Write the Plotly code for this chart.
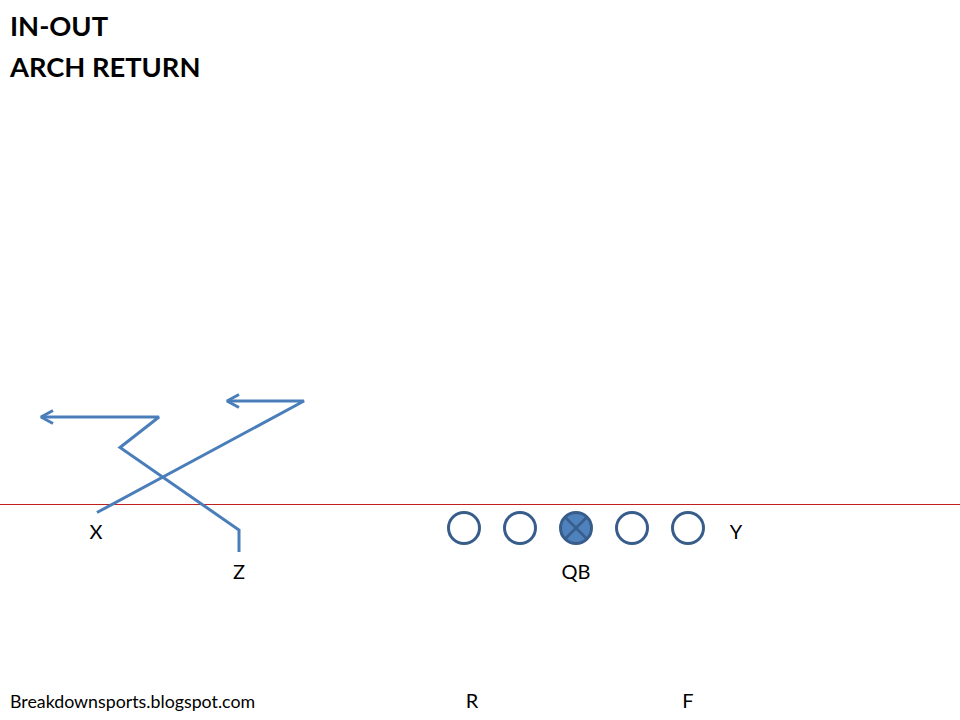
import plotly.graph_objects as go

# everything is in image pixels, y axis flipped
title_lines = ["IN-OUT", "ARCH RETURN"]
title_x = [10, 10]
title_y = [29, 70]

los_x = [0, 960]
los_y = [504.5, 504.5]

route_x_x = [97, 304, 227]
route_x_y = [512.5, 401, 401]
route_z_x = [239, 239, 120, 159, 41]
route_z_y = [552, 530, 447.5, 417, 417]

line_x = [464, 520, 632, 688]
line_y = [528, 528, 528, 528]
qb_x = [576]
qb_y = [528]

label_text = ["X", "Z", "QB", "Y", "R", "F"]
label_x = [96, 239, 576, 736, 472, 688]
label_y = [534, 574, 574, 534, 703, 703]

credit = ["Breakdownsports.blogspot.com"]
credit_x = [10]
credit_y = [704]

ROUTE = "#4a7ebb"
DARK = "#385d8a"
FILL = "#4f81bd"
BARB_BACK = 12
BARB_SIDE = 6.5

fig = go.Figure()

fig.add_trace(go.Scatter(x=los_x, y=los_y, mode="lines",
                         line=dict(color="#c0201f", width=1)))


def add_route(xs, ys):
    fig.add_trace(go.Scatter(x=xs, y=ys, mode="lines",
                             line=dict(color=ROUTE, width=3, shape="linear")))
    # open arrowhead on the last point, routes all finish going left
    tip_x, tip_y = xs[-1], ys[-1]
    fig.add_trace(go.Scatter(
        x=[tip_x + BARB_BACK, tip_x, tip_x + BARB_BACK],
        y=[tip_y - BARB_SIDE, tip_y, tip_y + BARB_SIDE],
        mode="lines", line=dict(color=ROUTE, width=3),
    ))


add_route(route_x_x, route_x_y)
add_route(route_z_x, route_z_y)

fig.add_trace(go.Scatter(
    x=line_x, y=line_y, mode="markers",
    marker=dict(symbol="circle", size=31, color="white", line=dict(color=DARK, width=3)),
))
fig.add_trace(go.Scatter(
    x=qb_x, y=qb_y, mode="markers",
    marker=dict(symbol="circle", size=31, color=FILL, line=dict(color=DARK, width=3)),
))
fig.add_trace(go.Scatter(
    x=qb_x, y=qb_y, mode="markers",
    marker=dict(symbol="x-thin-open", size=22, color=DARK, line=dict(color=DARK, width=2.5)),
))

fig.add_trace(go.Scatter(
    x=title_x, y=title_y, text=[f"<b>{t}</b>" for t in title_lines], mode="text",
    textposition="middle right",
    textfont=dict(family="Lato", size=27.3, color="black"),
))
fig.add_trace(go.Scatter(
    x=label_x, y=label_y, text=label_text, mode="text",
    textposition="middle center",
    textfont=dict(family="Lato", size=20, color="black"),
))
fig.add_trace(go.Scatter(
    x=credit_x, y=credit_y, text=credit, mode="text",
    textposition="middle right",
    textfont=dict(family="Lato", size=17.8, color="black"),
))

fig.update_xaxes(range=[0, 960], visible=False)
fig.update_yaxes(range=[720, 0], visible=False)
fig.update_layout(
    width=960, height=720,
    margin=dict(l=0, r=0, t=0, b=0),
    paper_bgcolor="white", plot_bgcolor="white",
    showlegend=False,
)

# the page's default body margin would push the drawing 8px in
fig.write_html("out.html", config=dict(displayModeBar=False),
               post_script="document.body.style.margin='0';")
